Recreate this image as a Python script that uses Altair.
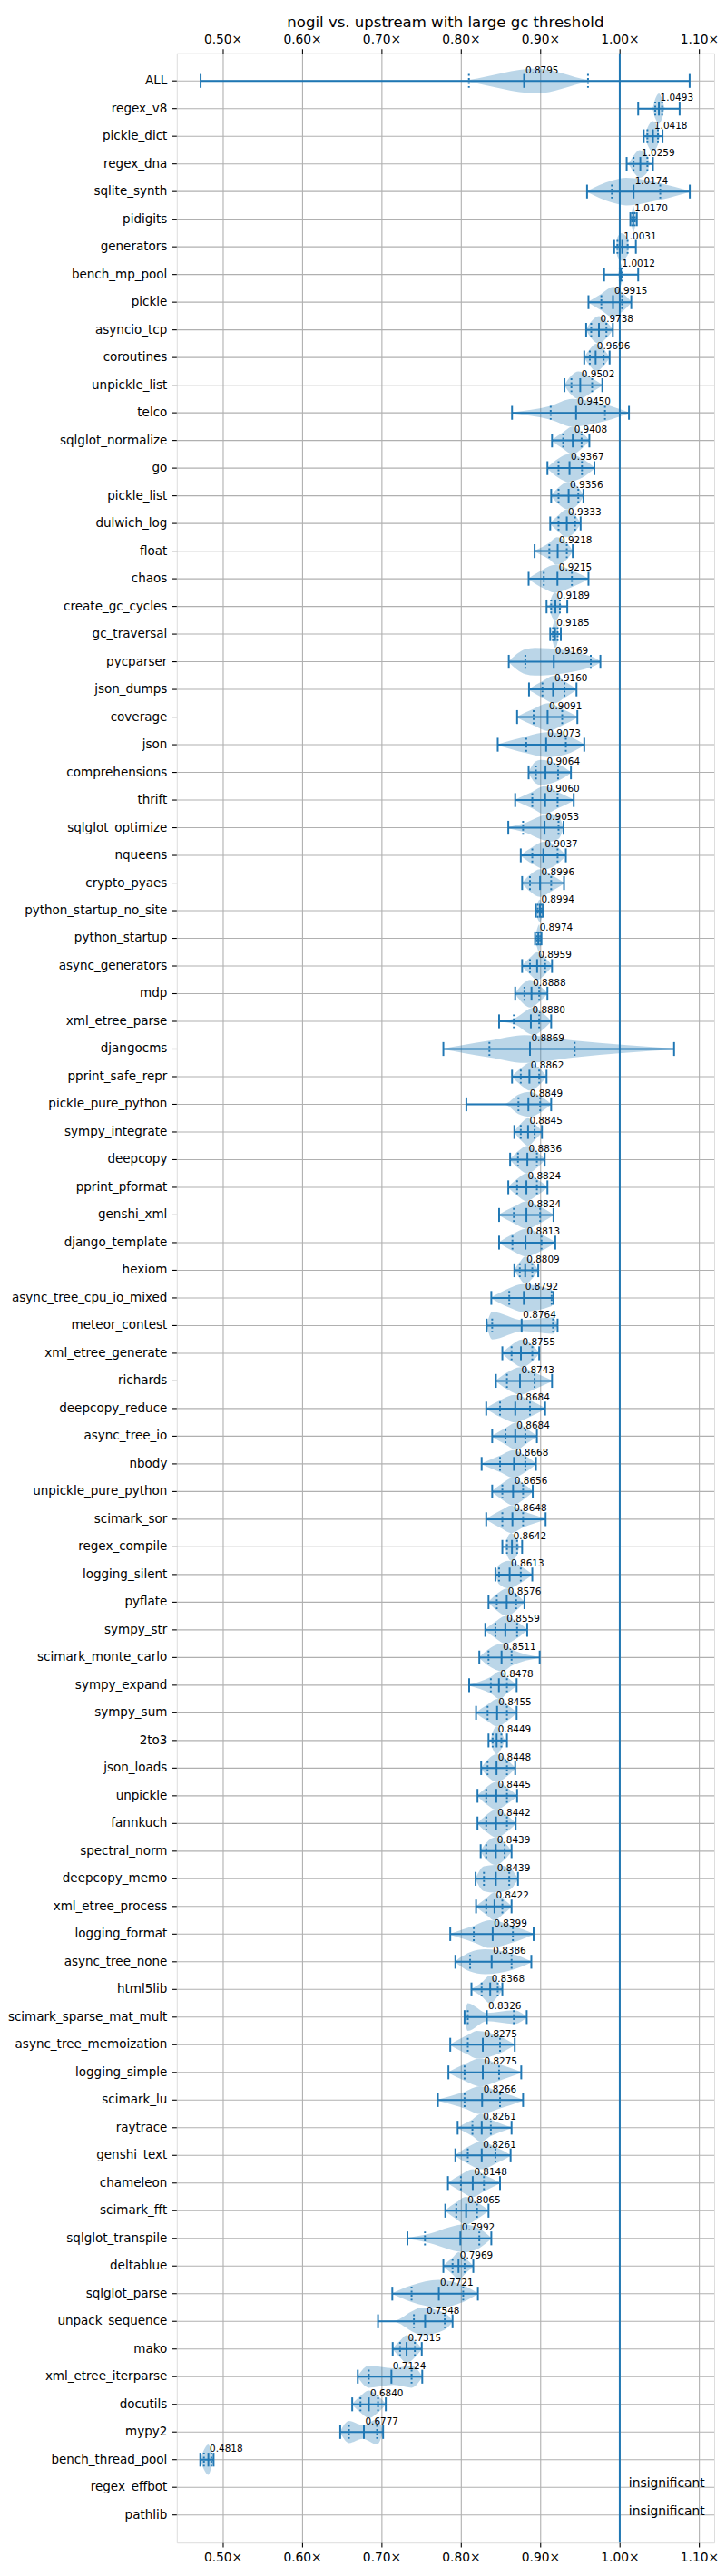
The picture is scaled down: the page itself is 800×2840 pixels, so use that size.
import altair as alt
import pandas as pd

FONT = "DejaVu Sans"
BLUE = "#1f77b4"
GRID = "#b0b0b0"

names = [
    "ALL", "regex_v8", "pickle_dict", "regex_dna", "sqlite_synth", "pidigits", "generators", "bench_mp_pool",
    "pickle", "asyncio_tcp", "coroutines", "unpickle_list", "telco", "sqlglot_normalize", "go", "pickle_list",
    "dulwich_log", "float", "chaos", "create_gc_cycles", "gc_traversal", "pycparser", "json_dumps", "coverage",
    "json", "comprehensions", "thrift", "sqlglot_optimize", "nqueens", "crypto_pyaes", "python_startup_no_site", "python_startup",
    "async_generators", "mdp", "xml_etree_parse", "djangocms", "pprint_safe_repr", "pickle_pure_python", "sympy_integrate", "deepcopy",
    "pprint_pformat", "genshi_xml", "django_template", "hexiom", "async_tree_cpu_io_mixed", "meteor_contest", "xml_etree_generate", "richards",
    "deepcopy_reduce", "async_tree_io", "nbody", "unpickle_pure_python", "scimark_sor", "regex_compile", "logging_silent", "pyflate",
    "sympy_str", "scimark_monte_carlo", "sympy_expand", "sympy_sum", "2to3", "json_loads", "unpickle", "fannkuch",
    "spectral_norm", "deepcopy_memo", "xml_etree_process", "logging_format", "async_tree_none", "html5lib", "scimark_sparse_mat_mult", "async_tree_memoization",
    "logging_simple", "scimark_lu", "raytrace", "genshi_text", "chameleon", "scimark_fft", "sqlglot_transpile", "deltablue",
    "sqlglot_parse", "unpack_sequence", "mako", "xml_etree_iterparse", "docutils", "mypy2", "bench_thread_pool",
]
insignificant = ["regex_effbot", "pathlib"]

vmin = [
    0.472, 1.0232, 1.0302, 1.0087, 0.9588, 1.0133, 0.9930, 0.9803,
    0.9606, 0.9577, 0.9553, 0.9304, 0.8643, 0.9147, 0.9089, 0.9136,
    0.9124, 0.8927, 0.8852, 0.9078, 0.9124, 0.8602, 0.8857, 0.8707,
    0.8463, 0.8852, 0.8683, 0.8596, 0.8753, 0.8770, 0.8944, 0.8933,
    0.8770, 0.8683, 0.8480, 0.7778, 0.8643, 0.8068, 0.8672, 0.8619,
    0.8596, 0.8480, 0.8480, 0.8672, 0.8382, 0.8324, 0.8521, 0.8440,
    0.8318, 0.8393, 0.8260, 0.8393, 0.8318, 0.8521, 0.8434, 0.8347,
    0.8306, 0.8231, 0.8103, 0.8190, 0.8347, 0.8254, 0.8208, 0.8208,
    0.8248, 0.8184, 0.8190, 0.7865, 0.7929, 0.8132, 0.8045, 0.7865,
    0.7842, 0.7709, 0.7958, 0.7929, 0.7836, 0.7802, 0.7326, 0.7778,
    0.7135, 0.6955, 0.7140, 0.6700, 0.6630, 0.6479, 0.4716,
]
qlo = [
    0.810, 1.0447, 1.0348, 1.0174, 0.9901, 1.0155, 0.9971, 1.0000,
    0.9768, 0.9640, 0.9623, 0.9391, 0.9130, 0.9287, 0.9229, 0.9229,
    0.9229, 0.9113, 0.9043, 0.9136, 0.9158, 0.8811, 0.9026, 0.8915,
    0.8822, 0.8944, 0.8898, 0.8782, 0.8898, 0.8869, 0.8967, 0.8956,
    0.8869, 0.8799, 0.8666, 0.8358, 0.8753, 0.8724, 0.8753, 0.8718,
    0.8707, 0.8666, 0.8648, 0.8741, 0.8608, 0.8393, 0.8637, 0.8579,
    0.8492, 0.8561, 0.8492, 0.8521, 0.8521, 0.8579, 0.8480, 0.8451,
    0.8434, 0.8347, 0.8376, 0.8335, 0.8399, 0.8335, 0.8318, 0.8318,
    0.8318, 0.8289, 0.8318, 0.8161, 0.8115, 0.8260, 0.8086, 0.8086,
    0.8045, 0.8045, 0.8144, 0.8086, 0.7999, 0.7941, 0.7546, 0.7894,
    0.7378, 0.7407, 0.7233, 0.6839, 0.6734, 0.6589, 0.4762,
]
median = [
    0.8795, 1.0493, 1.0418, 1.0259, 1.0174, 1.0170, 1.0031, 1.0012,
    0.9915, 0.9738, 0.9696, 0.9502, 0.9450, 0.9408, 0.9367, 0.9356,
    0.9333, 0.9218, 0.9215, 0.9189, 0.9185, 0.9169, 0.9160, 0.9091,
    0.9073, 0.9064, 0.9060, 0.9053, 0.9037, 0.8996, 0.8994, 0.8974,
    0.8959, 0.8888, 0.8880, 0.8869, 0.8862, 0.8849, 0.8845, 0.8836,
    0.8824, 0.8824, 0.8813, 0.8809, 0.8792, 0.8764, 0.8755, 0.8743,
    0.8684, 0.8684, 0.8668, 0.8656, 0.8648, 0.8642, 0.8613, 0.8576,
    0.8559, 0.8511, 0.8478, 0.8455, 0.8449, 0.8448, 0.8445, 0.8442,
    0.8439, 0.8439, 0.8422, 0.8399, 0.8386, 0.8368, 0.8326, 0.8275,
    0.8275, 0.8266, 0.8261, 0.8261, 0.8148, 0.8065, 0.7992, 0.7969,
    0.7721, 0.7548, 0.7315, 0.7124, 0.6840, 0.6777, 0.4818,
]
qhi = [
    0.960, 1.0534, 1.0481, 1.0348, 1.0510, 1.0190, 1.0099, 1.0025,
    1.0029, 0.9832, 0.9797, 0.9652, 0.9814, 0.9519, 0.9524, 0.9478,
    0.9437, 0.9333, 0.9397, 0.9246, 0.9217, 0.9635, 0.9304, 0.9275,
    0.9321, 0.9223, 0.9217, 0.9229, 0.9217, 0.9136, 0.9014, 0.8997,
    0.9060, 0.8985, 0.8985, 0.9432, 0.8985, 0.8997, 0.8927, 0.8956,
    0.8956, 0.8997, 0.9014, 0.8898, 0.9142, 0.9159, 0.8898, 0.8927,
    0.8869, 0.8811, 0.8811, 0.8782, 0.8782, 0.8707, 0.8753, 0.8695,
    0.8707, 0.8637, 0.8579, 0.8579, 0.8509, 0.8579, 0.8579, 0.8579,
    0.8550, 0.8608, 0.8521, 0.8654, 0.8637, 0.8463, 0.8666, 0.8492,
    0.8480, 0.8492, 0.8376, 0.8434, 0.8289, 0.8202, 0.8231, 0.8045,
    0.8028, 0.7796, 0.7419, 0.7378, 0.6955, 0.6943, 0.4855,
]
vmax = [
    1.088, 1.0754, 1.0539, 1.0418, 1.0882, 1.0215, 1.0203, 1.0232,
    1.0145, 0.9913, 0.9872, 0.9780, 1.0116, 0.9617, 0.9681, 0.9542,
    0.9507, 0.9408, 0.9606, 0.9339, 0.9258, 0.9756, 0.9455, 0.9466,
    0.9553, 0.9385, 0.9420, 0.9292, 0.9321, 0.9298, 0.9031, 0.9014,
    0.9147, 0.9089, 0.9136, 1.0684, 0.9078, 0.9136, 0.9020, 0.9055,
    0.9089, 0.9165, 0.9188, 0.8973, 0.9165, 0.9217, 0.8985, 0.9147,
    0.9060, 0.8956, 0.8944, 0.8904, 0.9066, 0.8770, 0.8898, 0.8799,
    0.8834, 0.8991, 0.8701, 0.8701, 0.8579, 0.8683, 0.8707, 0.8689,
    0.8637, 0.8718, 0.8637, 0.8915, 0.8886, 0.8521, 0.8828, 0.8677,
    0.8759, 0.8782, 0.8637, 0.8625, 0.8492, 0.8347, 0.8382, 0.8155,
    0.8213, 0.7894, 0.7506, 0.7512, 0.7053, 0.7019, 0.4884,
]

# violin outline (half-width in row units) at the lower quantile, a middle point and the upper quantile
w_lo = [
    0.04, 0.35, 0.3, 0.3, 0.4, 0.3, 0.35, 0.3,
    0.3, 0.3, 0.3, 0.35, 0.25, 0.3, 0.35, 0.3,
    0.3, 0.3, 0.35, 0.3, 0.3, 0.45, 0.3, 0.3,
    0.3, 0.4, 0.3, 0.15, 0.3, 0.3, 0.3, 0.3,
    0.3, 0.4, 0.1, 0.3, 0.3, 0.35, 0.3, 0.3,
    0.3, 0.3, 0.3, 0.3, 0.35, 0.5, 0.3, 0.3,
    0.3, 0.3, 0.3, 0.3, 0.35, 0.3, 0.35, 0.3,
    0.3, 0.3, 0.3, 0.3, 0.3, 0.3, 0.3, 0.3,
    0.3, 0.45, 0.3, 0.3, 0.35, 0.25, 0.5, 0.35,
    0.3, 0.3, 0.3, 0.3, 0.3, 0.3, 0.13, 0.3,
    0.3, 0.4, 0.3, 0.4, 0.3, 0.4, 0.35,
]
mid_x = [
    0.895, 1.0493, 1.0418, 1.025, 1.008, 1.017, 1.002, 1.0012,
    0.992, 0.9738, 0.970, 0.948, 0.940, 0.9408, 0.935, 0.935,
    0.933, 0.921, 0.918, 0.9185, 0.9185, 0.893, 0.918, 0.910,
    0.909, 0.900, 0.905, 0.913, 0.906, 0.8996, 0.8994, 0.8985,
    0.896, 0.887, 0.892, 0.880, 0.887, 0.887, 0.8845, 0.8836,
    0.8824, 0.883, 0.882, 0.8809, 0.877, 0.878, 0.877, 0.875,
    0.868, 0.870, 0.866, 0.8656, 0.863, 0.863, 0.860, 0.858,
    0.856, 0.852, 0.849, 0.846, 0.8449, 0.845, 0.8445, 0.8442,
    0.844, 0.843, 0.842, 0.836, 0.830, 0.8368, 0.8326, 0.820,
    0.824, 0.824, 0.825, 0.826, 0.815, 0.806, 0.805, 0.797,
    0.772, 0.750, 0.7315, 0.715, 0.684, 0.676, 0.4818,
]
mid_w = [
    0.45, 0.55, 0.55, 0.5, 0.5, 0.5, 0.5, 0.4,
    0.55, 0.5, 0.5, 0.5, 0.5, 0.5, 0.5, 0.5,
    0.5, 0.5, 0.5, 0.5, 0.5, 0.5, 0.5, 0.5,
    0.45, 0.45, 0.5, 0.5, 0.5, 0.5, 0.4, 0.5,
    0.5, 0.5, 0.5, 0.5, 0.5, 0.45, 0.5, 0.5,
    0.5, 0.5, 0.5, 0.5, 0.5, 0.2, 0.5, 0.5,
    0.5, 0.5, 0.5, 0.5, 0.5, 0.5, 0.5, 0.5,
    0.5, 0.5, 0.5, 0.5, 0.5, 0.5, 0.5, 0.5,
    0.5, 0.5, 0.5, 0.5, 0.45, 0.5, 0.15, 0.5,
    0.5, 0.5, 0.5, 0.5, 0.5, 0.5, 0.5, 0.5,
    0.5, 0.5, 0.5, 0.3, 0.5, 0.25, 0.55,
]
w_hi = [
    0.04, 0.35, 0.3, 0.3, 0.3, 0.3, 0.3, 0.3,
    0.35, 0.3, 0.3, 0.25, 0.3, 0.3, 0.35, 0.3,
    0.3, 0.3, 0.3, 0.25, 0.3, 0.2, 0.3, 0.3,
    0.35, 0.3, 0.3, 0.4, 0.3, 0.3, 0.3, 0.3,
    0.3, 0.3, 0.4, 0.3, 0.3, 0.3, 0.3, 0.3,
    0.3, 0.3, 0.3, 0.3, 0.3, 0.3, 0.3, 0.3,
    0.3, 0.3, 0.3, 0.3, 0.3, 0.3, 0.3, 0.3,
    0.3, 0.3, 0.3, 0.3, 0.3, 0.3, 0.3, 0.3,
    0.3, 0.4, 0.3, 0.3, 0.3, 0.25, 0.25, 0.3,
    0.3, 0.3, 0.3, 0.3, 0.3, 0.3, 0.35, 0.3,
    0.3, 0.3, 0.3, 0.4, 0.3, 0.45, 0.3,
]
# where a narrow violin body starts / ends (only for the spiky ones)
body_lo = {"ALL": 0.805, "regex_v8": 1.041, "pickle_dict": 1.032, "regex_dna": 1.010,
           "generators": 0.995, "bench_mp_pool": 0.998, "create_gc_cycles": 0.911,
           "gc_traversal": 0.914, "pickle_pure_python": 0.855, "regex_compile": 0.855,
           "2to3": 0.837, "unpack_sequence": 0.715}
body_hi = {"ALL": 0.965, "regex_v8": 1.057, "pickle_dict": 1.051, "regex_dna": 1.038,
           "generators": 1.012, "bench_mp_pool": 1.004, "create_gc_cycles": 0.927,
           "gc_traversal": 0.923, "regex_compile": 0.874, "2to3": 0.856}
TAIL_W = 0.02
CAP = 0.25

x_ticks = [0.5, 0.6, 0.7, 0.8, 0.9, 1.0, 1.1]
all_names = names + insignificant
n_rows = len(all_names)

# ---- tables ----
vrows = []
for i, n in enumerate(names):
    pts = [(vmin[i], TAIL_W), (qlo[i], w_lo[i]), (mid_x[i], mid_w[i]),
           (qhi[i], w_hi[i]), (vmax[i], TAIL_W)]
    if n in body_lo:
        pts.append((body_lo[n], TAIL_W))
    if n in body_hi:
        pts.append((body_hi[n], TAIL_W))
    pts.sort()
    for x, w in pts:
        vrows.append({"bench": n, "x": x, "lo": i - w, "hi": i + w})
violin_df = pd.DataFrame(vrows)

bars_df = pd.DataFrame({"idx": range(len(names)), "vmin": vmin, "vmax": vmax})
caps_rows, q_rows = [], []
for i in range(len(names)):
    for v in (vmin[i], vmax[i], median[i]):
        caps_rows.append({"x": v, "y1": i - CAP, "y2": i + CAP})
    for v in (qlo[i], qhi[i]):
        q_rows.append({"x": v, "y1": i - CAP, "y2": i + CAP})
caps_df = pd.DataFrame(caps_rows)
q_df = pd.DataFrame(q_rows)
lab_df = pd.DataFrame({"idx": range(len(names)), "x": median,
                       "txt": [f"{m:.4f}" for m in median]})
ins_df = pd.DataFrame({"idx": [all_names.index(n) for n in insignificant],
                       "x": [1.0] * len(insignificant), "txt": ["insignificant"] * len(insignificant)})
one_df = pd.DataFrame({"x": [1.0]})
rows_df = pd.DataFrame({"idx": list(range(n_rows)), "name": all_names})

# ---- scales & axes ----
xs = alt.Scale(domain=[0.442, 1.119], nice=False, zero=False)
ys = alt.Scale(domain=[-1, n_rows], reverse=True, nice=False, zero=False)

x_fmt = "format(datum.value, '.2f') + '×'"
x_bottom = alt.Axis(orient="bottom", values=x_ticks, labelExpr=x_fmt, grid=True,
                    gridColor=GRID, gridWidth=1.1, domain=False, tickSize=4.86,
                    tickColor="black", tickWidth=1.1, labelFont=FONT, labelFontSize=13.9,
                    labelColor="black", labelPadding=4.4, labelFlush=False, title=None)
x_top = alt.Axis(orient="top", values=x_ticks, labelExpr=x_fmt, grid=False, domain=False,
                 tickSize=4.86, tickColor="black", tickWidth=1.1, labelFont=FONT,
                 labelFontSize=13.9, labelColor="black", labelPadding=3.9, labelFlush=False,
                 title=None)

# category axis drawn from the row table: grid lines, ticks and labels
ygrid = alt.Chart(rows_df).mark_rule(color=GRID, strokeWidth=1.1).encode(
    y=alt.Y("idx:Q", scale=ys, axis=None),
)
yticks = alt.Chart(rows_df).mark_rule(color="black", strokeWidth=1.1).encode(
    x=alt.value(-4.86), x2=alt.value(0),
    y=alt.Y("idx:Q", scale=ys, axis=None),
)
ylabels = alt.Chart(rows_df).mark_text(align="right", baseline="middle", font=FONT,
                                       fontSize=13.6, color="black").encode(
    x=alt.value(-10.5),
    y=alt.Y("idx:Q", scale=ys, axis=None),
    text="name:N",
)
violins = alt.Chart(violin_df).mark_area(color=BLUE, opacity=0.3, interpolate="monotone").encode(
    x=alt.X("x:Q", scale=xs, axis=x_bottom),
    y=alt.Y("lo:Q", scale=ys, axis=None),
    y2="hi:Q",
    detail="bench:N",
)
bars = alt.Chart(bars_df).mark_rule(color=BLUE, strokeWidth=2).encode(
    x=alt.X("vmin:Q", scale=xs, axis=None), x2="vmax:Q",
    y=alt.Y("idx:Q", scale=ys, axis=None),
)
caps = alt.Chart(caps_df).mark_rule(color=BLUE, strokeWidth=2).encode(
    x=alt.X("x:Q", scale=xs, axis=None),
    y=alt.Y("y1:Q", scale=ys, axis=None), y2="y2:Q",
)
quants = alt.Chart(q_df).mark_rule(color=BLUE, strokeWidth=2, strokeDash=[2, 2.5]).encode(
    x=alt.X("x:Q", scale=xs, axis=None),
    y=alt.Y("y1:Q", scale=ys, axis=None), y2="y2:Q",
)
vline = alt.Chart(one_df).mark_rule(color=BLUE, strokeWidth=2).encode(
    x=alt.X("x:Q", scale=xs, axis=x_top),
)
labels = alt.Chart(lab_df).mark_text(align="left", baseline="alphabetic", dx=1.5, dy=-8.7,
                                     font=FONT, fontSize=10.5, color="black").encode(
    x=alt.X("x:Q", scale=xs, axis=None),
    y=alt.Y("idx:Q", scale=ys, axis=None),
    text="txt:N",
)
insig = alt.Chart(ins_df).mark_text(align="left", baseline="alphabetic", dx=10,
                                    font=FONT, fontSize=13.9, color="black").encode(
    x=alt.X("x:Q", scale=xs, axis=None),
    y=alt.Y("idx:Q", scale=ys, axis=None),
    text="txt:N",
)

chart = alt.layer(ygrid, yticks, ylabels, violins, bars, caps, quants, vline, labels, insig).resolve_axis(
    x="independent"
).properties(
    width=596,
    height=2762,
    padding={"left": 0, "top": 0, "right": 0, "bottom": 0},
    title=alt.TitleParams("nogil vs. upstream with large gc threshold", font=FONT,
                          fontSize=16.67, fontWeight="normal", color="black",
                          anchor="middle", frame="group", offset=2.5),
).configure_view(stroke="black", strokeWidth=1.1).configure(background="white")

chart.save("out.html", embed_options={"renderer": "svg", "actions": False})
